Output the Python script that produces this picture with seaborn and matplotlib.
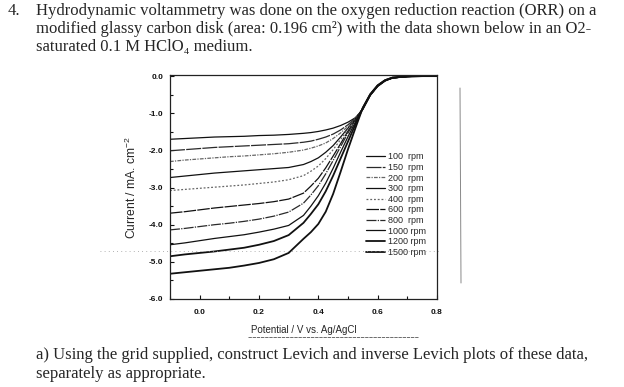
import pandas as pd
import seaborn as sns
import matplotlib.pyplot as plt
from matplotlib.lines import Line2D
from matplotlib.ticker import MultipleLocator, FormatStrFormatter

# potential (V vs Ag/AgCl) and current density (mA cm-2)
potential = [-0.10, -0.05, 0.00, 0.05, 0.10, 0.15, 0.20, 0.25, 0.30,
             0.35, 0.375, 0.40, 0.425, 0.45, 0.475, 0.50, 0.525,
             0.55, 0.575, 0.60, 0.625, 0.65, 0.70, 0.75, 0.80]

i_100 = [-1.70, -1.68, -1.66, -1.64, -1.63, -1.62, -1.60, -1.59, -1.57,
         -1.54, -1.52, -1.49, -1.45, -1.40, -1.33, -1.24, -1.12,
         -0.90, -0.52, -0.28, -0.13, -0.05, -0.01, 0.0, 0.0]
i_150 = [-2.01, -1.98, -1.95, -1.92, -1.90, -1.88, -1.86, -1.84, -1.82,
         -1.78, -1.75, -1.70, -1.64, -1.56, -1.45, -1.31, -1.13,
         -0.89, -0.52, -0.27, -0.13, -0.05, -0.01, 0.0, 0.0]
i_200 = [-2.30, -2.26, -2.23, -2.20, -2.17, -2.15, -2.12, -2.09, -2.05,
         -1.99, -1.94, -1.88, -1.80, -1.68, -1.53, -1.35, -1.14,
         -0.89, -0.51, -0.27, -0.12, -0.05, -0.01, 0.0, 0.0]
i_300 = [-2.73, -2.69, -2.65, -2.61, -2.58, -2.55, -2.52, -2.49, -2.46,
         -2.38, -2.30, -2.20, -2.05, -1.87, -1.64, -1.40, -1.15,
         -0.88, -0.51, -0.27, -0.12, -0.05, -0.01, 0.0, 0.0]
i_400 = [-3.08, -3.05, -3.02, -2.99, -2.96, -2.93, -2.89, -2.85, -2.79,
         -2.68, -2.56, -2.42, -2.22, -1.98, -1.71, -1.43, -1.16,
         -0.88, -0.51, -0.26, -0.12, -0.05, -0.01, 0.0, 0.0]
i_600 = [-3.69, -3.65, -3.60, -3.55, -3.51, -3.47, -3.43, -3.38, -3.31,
         -3.15, -2.96, -2.75, -2.47, -2.15, -1.82, -1.48, -1.18,
         -0.87, -0.50, -0.26, -0.12, -0.05, -0.01, 0.0, 0.0]
i_800 = [-4.14, -4.10, -4.05, -4.00, -3.96, -3.91, -3.85, -3.77, -3.66,
         -3.42, -3.20, -2.95, -2.63, -2.27, -1.90, -1.53, -1.20,
         -0.87, -0.50, -0.26, -0.12, -0.05, -0.01, 0.0, 0.0]
i_1000 = [-4.54, -4.49, -4.43, -4.37, -4.32, -4.27, -4.20, -4.12, -4.02,
          -3.75, -3.50, -3.22, -2.88, -2.48, -2.05, -1.63, -1.24,
          -0.86, -0.50, -0.26, -0.12, -0.04, -0.01, 0.0, 0.0]
i_1200 = [-4.85, -4.80, -4.76, -4.72, -4.67, -4.62, -4.54, -4.44, -4.28,
          -3.95, -3.71, -3.45, -3.10, -2.68, -2.22, -1.76, -1.30,
          -0.86, -0.49, -0.25, -0.11, -0.04, -0.01, 0.0, 0.0]
i_1500 = [-5.32, -5.28, -5.24, -5.20, -5.16, -5.10, -5.03, -4.93, -4.76,
          -4.38, -4.20, -3.98, -3.65, -3.17, -2.58, -1.97, -1.40,
          -0.85, -0.49, -0.25, -0.11, -0.04, -0.01, 0.0, 0.0]

speeds = ["100  rpm", "150  rpm", "200  rpm", "300  rpm", "400  rpm",
          "600  rpm", "800  rpm", "1000 rpm", "1200 rpm", "1500 rpm"]
currents = [i_100, i_150, i_200, i_300, i_400, i_600, i_800, i_1000, i_1200, i_1500]

x_ticks = [0.0, 0.2, 0.4, 0.6, 0.8]
y_ticks = [0.0, -1.0, -2.0, -3.0, -4.0, -5.0, -6.0]

records = []
for spd, cur in zip(speeds, currents):
    for e, i in zip(potential, cur):
        records.append({"Potential": e, "Current": i, "Speed": spd})
df = pd.DataFrame(records)

sns.set_theme(style="ticks")
plt.rcParams["font.family"] = ["Liberation Sans", "DejaVu Sans"]
plt.rcParams["mathtext.default"] = "regular"

palette = {s: "#111111" for s in speeds}
palette["200  rpm"] = "#666666"
palette["400  rpm"] = "#666666"
palette["150  rpm"] = "#2a2a2a"
palette["800  rpm"] = "#2a2a2a"
dashes = {"100  rpm": "", "150  rpm": (12, 1), "200  rpm": (3, 1, 1, 1),
          "300  rpm": "", "400  rpm": (1.5, 1.5), "600  rpm": (10, 1),
          "800  rpm": (8, 1, 1, 1), "1000 rpm": "", "1200 rpm": "", "1500 rpm": ""}

fig = plt.figure(figsize=(6.24, 3.87), dpi=100)
ax = fig.add_axes([0.2724, 0.2274, 0.4279, 0.5788])

sns.lineplot(data=df, x="Potential", y="Current", hue="Speed", style="Speed",
             hue_order=speeds, style_order=speeds, palette=palette,
             dashes=dashes, linewidth=0.9, ax=ax, sort=False)
for line, spd in zip(ax.lines, speeds):
    if spd in ("1200 rpm", "1500 rpm"):
        line.set_linewidth(1.3)

ax.set_xlim(-0.1, 0.8)
ax.set_ylim(-6.0, 0.03)
ax.set_xticks(x_ticks)
ax.set_yticks(y_ticks)
ax.xaxis.set_minor_locator(MultipleLocator(0.1))
ax.yaxis.set_minor_locator(MultipleLocator(0.5))
ax.xaxis.set_major_formatter(FormatStrFormatter("%.1f"))
ax.yaxis.set_major_formatter(FormatStrFormatter("%.1f"))
ax.tick_params(which="both", direction="in", labelsize=6, width=0.8,
               top=False, right=False, colors="#111111")
ax.tick_params(which="major", length=3)
ax.tick_params(which="minor", length=2)
ax.tick_params(axis="x", pad=7)
ax.tick_params(axis="y", pad=5)
for lab in ax.get_xticklabels() + ax.get_yticklabels():
    lab.set_fontweight("bold")
for sp in ax.spines.values():
    sp.set_linewidth(0.9)
    sp.set_color("#222222")

ax.set_xlabel("Potential / V vs. Ag/AgCl", fontsize=7)
ax.xaxis.set_label_coords(0.50, -0.118)
ax.set_ylabel("Current / mA. cm$^{-2}$", fontsize=8.7)
ax.yaxis.set_label_coords(-0.116, 0.50)

handles, labels = ax.get_legend_handles_labels()
for h, lab in zip(handles, labels):
    if lab in ("1200 rpm", "1500 rpm"):
        h.set_linewidth(1.3)
ax.legend(handles, labels, loc="upper left", bbox_to_anchor=(0.735, 0.655),
          frameon=False, fontsize=6.5, handlelength=2.1, handletextpad=0.3,
          labelspacing=0.18, borderpad=0, borderaxespad=0)

# scan marks around the figure
fig.add_artist(Line2D([248 / 624, 418 / 624], [1 - 337 / 387, 1 - 337 / 387],
                      color="#555555", lw=0.6, ls=(0, (4, 1))))
fig.add_artist(Line2D([460 / 624, 461 / 624], [1 - 88 / 387, 1 - 283 / 387],
                      color="#888888", lw=0.7))
fig.add_artist(Line2D([100 / 624, 440 / 624], [1 - 251 / 387, 1 - 251 / 387],
                      color="#999999", lw=0.6, ls=(0, (1, 4))))

serif = ["Liberation Serif", "DejaVu Serif"]
fs = 12
fig.text(8 / 624, 1 - 15 / 387, "4.", family=serif, fontsize=fs, va="baseline")
fig.text(36 / 624, 1 - 15 / 387,
         "Hydrodynamic voltammetry was done on the oxygen reduction reaction (ORR) on a",
         family=serif, fontsize=fs, va="baseline")
fig.text(36 / 624, 1 - 33 / 387,
         "modified glassy carbon disk (area: 0.196 cm\u00b2) with the data shown below in an O2-",
         family=serif, fontsize=fs, va="baseline")
fig.text(36 / 624, 1 - 51 / 387, "saturated 0.1 M HClO\u2084 medium.",
         family=serif, fontsize=fs, va="baseline")
fig.text(36 / 624, 1 - 359 / 387,
         "a) Using the grid supplied, construct Levich and inverse Levich plots of these data,",
         family=serif, fontsize=fs, va="baseline")
fig.text(36 / 624, 1 - 378 / 387, "separately as appropriate.",
         family=serif, fontsize=fs, va="baseline")

fig.savefig("out.png", dpi=100)
